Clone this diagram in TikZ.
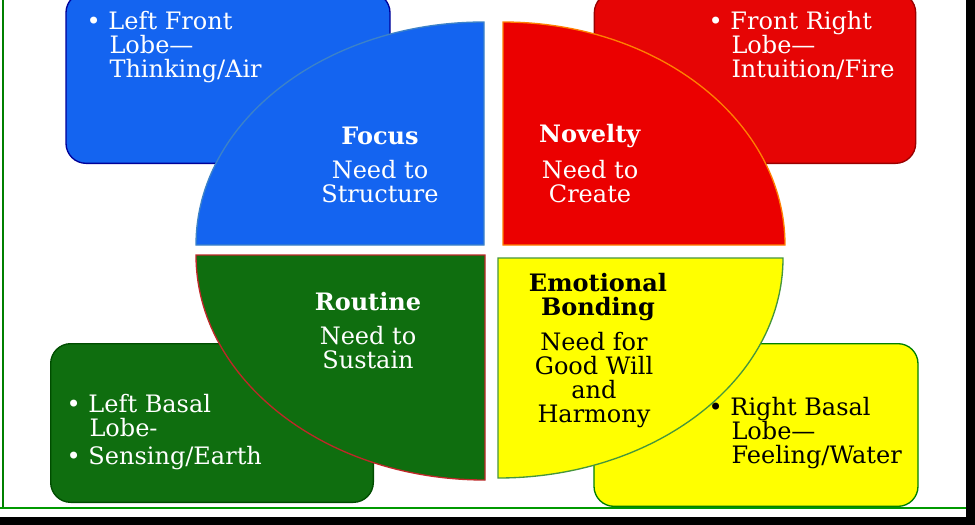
\documentclass[tikz,border=0pt]{standalone}
\usepackage{fontspec}
\setmainfont{DejaVu Serif}
\begin{document}
\begin{tikzpicture}[x=0.75pt,y=-0.75pt,
  lobe/.style={rounded corners=15pt, line width=1pt},
  quart/.style={line width=1pt},
  txt/.style={font=\fontsize{18}{18}\selectfont, align=center},
  btxt/.style={font=\fontsize{18}{18}\selectfont, align=left, anchor=north west}]
\fill[black] (0,0) rectangle (975,525);
\fill[white] (0,0) rectangle (966,517);
\useasboundingbox (0,0) rectangle (975,525);
\draw[green!50!black, line width=1pt] (3,0) -- (3,508);
\draw[green!60!black, line width=1pt] (0,508) -- (966,508);
% boxes
\node[draw=blue!60!black, fill={rgb,255:red,20;green,100;blue,240}, lobe, minimum width=243pt, minimum height=128pt, inner sep=0] (lf) at (228,78) {};
\node[draw=red!60!black, fill={rgb,255:red,230;green,5;blue,5}, lobe, minimum width=241pt, minimum height=128pt, inner sep=0] (fr) at (755,78) {};
\node[draw=green!30!black, fill={rgb,255:red,15;green,110;blue,15}, lobe, minimum width=242pt, minimum height=119pt, inner sep=0] (lb) at (212,423) {};
\node[draw=green!50!black, fill={rgb,255:red,255;green,255;blue,0}, lobe, minimum width=243pt, minimum height=122pt, inner sep=0] (rb) at (756,425) {};
% quarters
\coordinate (cb) at (484,245);
\coordinate (cr) at (503,245);
\coordinate (cg) at (485,255);
\coordinate (cy) at (498,258);
\draw[quart, draw={rgb,255:red,60;green,130;blue,200}, fill={rgb,255:red,20;green,100;blue,240}] (cb) -- ++(-288,0) arc[start angle=180, end angle=90, x radius=288, y radius=-223] -- cycle;
\draw[quart, draw=orange, fill={rgb,255:red,235;green,0;blue,0}] (cr) -- ++(282,0) arc[start angle=0, end angle=90, x radius=282, y radius=-223] -- cycle;
\draw[quart, draw={rgb,255:red,190;green,40;blue,40}, fill={rgb,255:red,15;green,110;blue,15}] (cg) -- ++(-289,0) arc[start angle=180, end angle=270, x radius=289, y radius=-225] -- cycle;
\draw[quart, draw={rgb,255:red,70;green,150;blue,60}, fill={rgb,255:red,255;green,255;blue,0}] (cy) -- ++(285,0) arc[start angle=0, end angle=-90, x radius=285, y radius=-220] -- cycle;
% quarter texts
\node[txt, text=white] (fo) at (380,136) {\textbf{Focus}};
\node[txt, text=white] (fo2) at (380,182) {Need to\\Structure};
\node[txt, text=white] (nv) at (590,136) {\textbf{Novelty}};
\node[txt, text=white] (nv2) at (590,182) {Need to\\Create};
\node[txt, text=white] (ro) at (368,302) {\textbf{Routine}};
\node[txt, text=white] (ro2) at (368,348) {Need to\\Sustain};
\node[txt, text=black] (eb) at (598,297) {\textbf{Emotional}\\\textbf{Bonding}};
\node[txt, text=black] (eb2) at (594,380) {Need for\\Good Will\\and\\Harmony};
% box texts
\node[btxt, text=white] (t1) at (82,7) {•\ Left Front\\\hspace*{0.95em}Lobe—\\\hspace*{0.95em}Thinking/Air};
\node[btxt, text=white] (t2) at (704,7) {•\ Front Right\\\hspace*{0.95em}Lobe—\\\hspace*{0.95em}Intuition/Fire};
\node[btxt, text=white] (t3) at (62,390) {•\ Left Basal\\\hspace*{0.95em}Lobe-\\[3pt]•\ Sensing/Earth};
\node[btxt, text=black] (t4) at (704,393) {•\ Right Basal\\\hspace*{0.95em}Lobe—\\\hspace*{0.95em}Feeling/Water};
\end{tikzpicture}
\end{document}
